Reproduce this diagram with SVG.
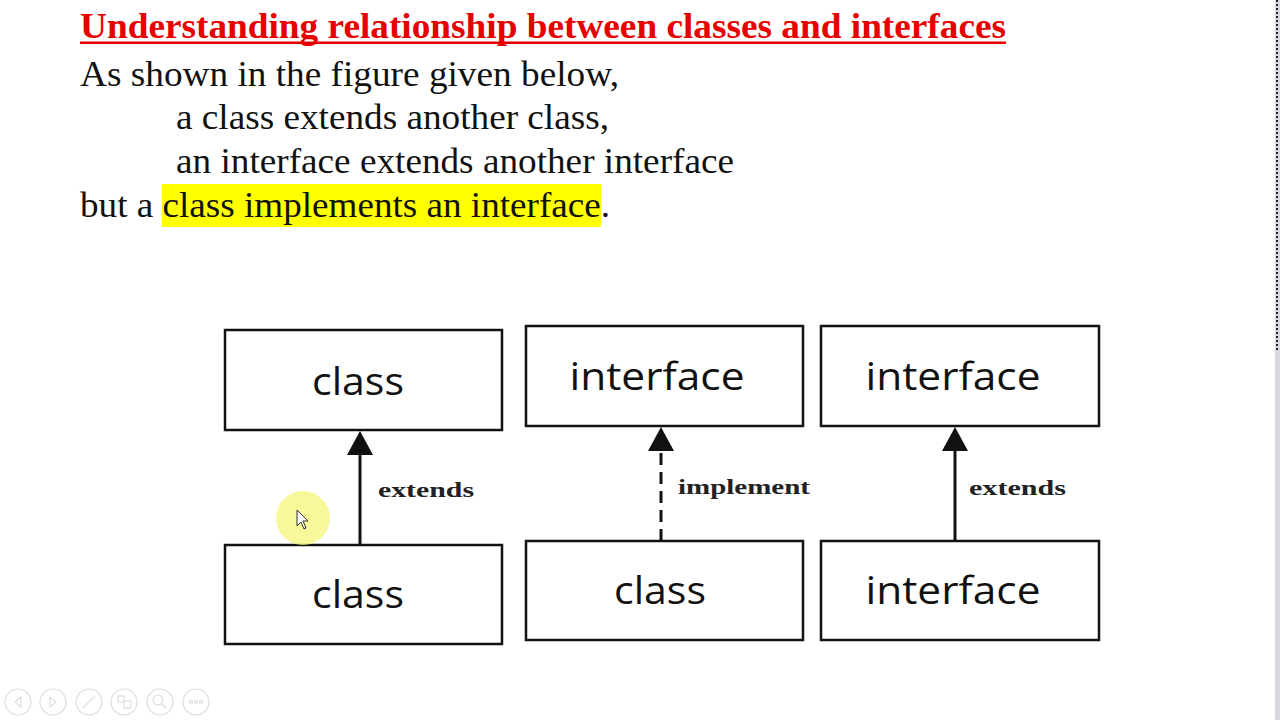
<svg xmlns="http://www.w3.org/2000/svg" width="1280" height="720" viewBox="0 0 1280 720">
<style>
.title{font-family:"Liberation Serif",serif;font-weight:bold;font-size:36px;fill:#e60000}
.body{font-family:"Liberation Serif",serif;font-size:36px;fill:#111}
.box{fill:#fff;stroke:#111;stroke-width:2.5}
.btxt{font-family:"Open Sans","Noto Sans",sans-serif;font-size:38px;fill:#111;text-anchor:middle}
.lbl{font-family:"Liberation Serif",serif;font-weight:bold;font-size:22px;fill:#222}
.conn{stroke:#111;stroke-width:3;fill:none}
.tb{fill:none;stroke:#ddd;stroke-width:1.2}
</style>
<defs>
<marker id="tri" viewBox="0 0 26 25" refX="13" refY="0" markerWidth="26" markerHeight="25" markerUnits="userSpaceOnUse" orient="auto-start-reverse">
<path d="M0,25 L13,0 L26,25 Z" fill="#111"/>
</marker>
</defs>
<rect width="1280" height="720" fill="#fff"/>

<g id="heading">
<text class="title" x="80" y="38" textLength="926" lengthAdjust="spacingAndGlyphs">Understanding relationship between classes and interfaces</text>
<rect x="80" y="41.5" width="926" height="2.5" fill="#e60000"/>
</g>
<g id="paragraph">
<rect x="162" y="184" width="439" height="43" fill="#ffff00"/>
<text class="body" x="80" y="86" textLength="539" lengthAdjust="spacingAndGlyphs">As shown in the figure given below,</text>
<text class="body" x="176" y="129" textLength="433" lengthAdjust="spacingAndGlyphs">a class extends another class,</text>
<text class="body" x="176" y="173" textLength="558" lengthAdjust="spacingAndGlyphs">an interface extends another interface</text>
<text class="body" x="80" y="217" textLength="530" lengthAdjust="spacingAndGlyphs">but a class implements an interface.</text>
</g>

<g id="connectors">
<line class="conn" x1="360" y1="545" x2="360" y2="455"/>
<path d="M347,455 L360,431 L373,455 Z" fill="#111"/>
<line class="conn" x1="661" y1="541" x2="661" y2="451" stroke-dasharray="12,7"/>
<path d="M648,451 L661,427 L674,451 Z" fill="#111"/>
<line class="conn" x1="955" y1="541" x2="955" y2="451"/>
<path d="M942,451 L955,427 L968,451 Z" fill="#111"/>
<text class="lbl" x="378" y="497" textLength="96" lengthAdjust="spacingAndGlyphs">extends</text>
<text class="lbl" x="678" y="494" textLength="132" lengthAdjust="spacingAndGlyphs">implement</text>
<text class="lbl" x="969" y="495" textLength="97" lengthAdjust="spacingAndGlyphs">extends</text>
</g>

<g id="class-top">
<rect class="box" x="225" y="330" width="277" height="100"/>
<text class="btxt" x="358" y="395" textLength="92" lengthAdjust="spacingAndGlyphs">class</text>
</g>
<g id="class-bottom">
<rect class="box" x="225" y="545" width="277" height="99"/>
<text class="btxt" x="358" y="608" textLength="92" lengthAdjust="spacingAndGlyphs">class</text>
</g>
<g id="interface-mid-top">
<rect class="box" x="526" y="326" width="277" height="100"/>
<text class="btxt" x="657" y="390" textLength="175" lengthAdjust="spacingAndGlyphs">interface</text>
</g>
<g id="class-mid-bottom">
<rect class="box" x="526" y="541" width="277" height="99"/>
<text class="btxt" x="660" y="604" textLength="92" lengthAdjust="spacingAndGlyphs">class</text>
</g>
<g id="interface-right-top">
<rect class="box" x="821" y="326" width="278" height="100"/>
<text class="btxt" x="953" y="390" textLength="175" lengthAdjust="spacingAndGlyphs">interface</text>
</g>
<g id="interface-right-bottom">
<rect class="box" x="821" y="541" width="278" height="99"/>
<text class="btxt" x="953" y="604" textLength="175" lengthAdjust="spacingAndGlyphs">interface</text>
</g>

<g id="pointer">
<circle cx="303" cy="518" r="27" fill="#f5f57a" opacity="0.75"/>
<path d="M297,510 L297,526 L301,522 L304,529 L306,528 L303,521 L308,521 Z" fill="#fff" stroke="#333" stroke-width="1"/>
</g>

<g id="toolbar">
<circle class="tb" cx="18" cy="702" r="13"/>
<path class="tb" d="M21,697 L15,702 L21,707 Z"/>
<circle class="tb" cx="53" cy="702" r="13"/>
<path class="tb" d="M50,697 L56,702 L50,707 Z"/>
<circle class="tb" cx="89" cy="702" r="13"/>
<path class="tb" d="M83,708 L95,696"/>
<circle class="tb" cx="124" cy="702" r="13"/>
<rect class="tb" x="118" y="696" width="6" height="6"/>
<rect class="tb" x="124" y="701" width="7" height="7"/>
<circle class="tb" cx="160" cy="702" r="13"/>
<circle class="tb" cx="158" cy="700" r="5"/>
<path class="tb" d="M162,704 L166,708"/>
<circle class="tb" cx="196" cy="702" r="13"/>
<circle class="tb" cx="191" cy="702" r="1.5"/>
<circle class="tb" cx="196" cy="702" r="1.5"/>
<circle class="tb" cx="201" cy="702" r="1.5"/>
</g>

<g id="edge-strip">
<rect x="1275" y="0" width="5" height="720" fill="#d8d8e0"/>
<line x1="1277" y1="0" x2="1277" y2="350" stroke="#222" stroke-width="2" stroke-dasharray="2,2"/>
</g>
</svg>
